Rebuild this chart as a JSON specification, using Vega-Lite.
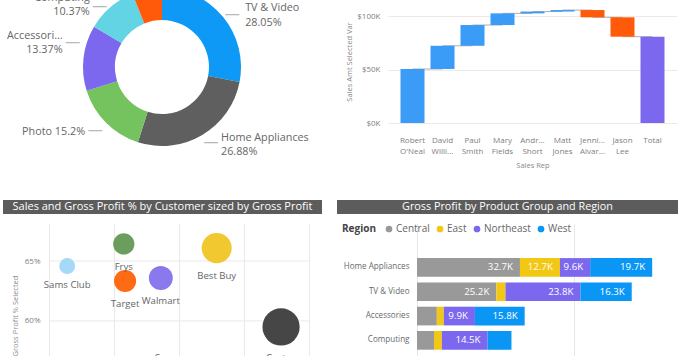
{
  "$schema": "https://vega.github.io/schema/vega-lite/v6.json",
  "padding": {"left": 3, "top": 0, "right": 0, "bottom": 0},
  "background": "white",
  "config": {
    "font": "Open Sans",
    "view": {"stroke": null},
    "axis": {"domain": false, "ticks": false, "labelFont": "Open Sans", "titleFont": "Open Sans", "titleFontWeight": "normal", "labelColor": "#808080", "titleColor": "#8a8a8a", "gridColor": "#eee8e6", "labelFontSize": 8, "titleFontSize": 7.5},
    "legend": {"labelFont": "Open Sans", "titleFont": "Open Sans"}
  },
  "datasets": {
    "donut": [
      {"cat": "TV & Video", "share": 28.05, "ord": 1, "lbl": "TV & Video|28.05%"},
      {"cat": "Home Appliances", "share": 26.88, "ord": 2, "lbl": "Home Appliances|26.88%"},
      {"cat": "Photo", "share": 15.2, "ord": 3, "lbl": "Photo 15.2%"},
      {"cat": "Accessories", "share": 13.37, "ord": 4, "lbl": "Accessori...|13.37%"},
      {"cat": "Computing", "share": 10.37, "ord": 5, "lbl": "Computing|10.37%"},
      {"cat": "Audio", "share": 6.13, "ord": 6, "lbl": "Audio|6.13%"}
    ],
    "waterfall": [
      {"rep": "Robert O'Neal", "start": 0, "end": 50.5, "kind": "Increase", "next": "David Willi..."},
      {"rep": "David Willi...", "start": 50.5, "end": 72.2, "kind": "Increase", "next": "Paul Smith"},
      {"rep": "Paul Smith", "start": 72.2, "end": 91.6, "kind": "Increase", "next": "Mary Fields"},
      {"rep": "Mary Fields", "start": 91.6, "end": 102.5, "kind": "Increase", "next": "Andr... Short"},
      {"rep": "Andr... Short", "start": 102.5, "end": 104.2, "kind": "Increase", "next": "Matt Jones"},
      {"rep": "Matt Jones", "start": 104.2, "end": 105.6, "kind": "Increase", "next": "Jenni... Alvar..."},
      {"rep": "Jenni... Alvar...", "start": 105.6, "end": 98.8, "kind": "Decrease", "next": "Jason Lee"},
      {"rep": "Jason Lee", "start": 98.8, "end": 80.7, "kind": "Decrease", "next": "Total"},
      {"rep": "Total", "start": 0, "end": 80.7, "kind": "Total", "next": null}
    ],
    "scatter": [
      {"cust": "Sams Club", "sales": 2.8, "pct": 0.6458, "gp": 8.1},
      {"cust": "Frys", "sales": 11.5, "pct": 0.6642, "gp": 14.4},
      {"cust": "Target", "sales": 11.7, "pct": 0.6333, "gp": 15.6},
      {"cust": "Walmart", "sales": 17.2, "pct": 0.6358, "gp": 18.2},
      {"cust": "Best Buy", "sales": 25.8, "pct": 0.6608, "gp": 28.9},
      {"cust": "Costco", "sales": 35.7, "pct": 0.595, "gp": 44.1},
      {"cust": "Sears", "sales": 18.2, "pct": 0.5791, "gp": 0}
    ],
    "scatterGrid": [{"v": 0.6}, {"v": 0.65}],
    "bars": [
      {"group": "Home Appliances", "region": "Central", "ri": 1, "gp": 32.7, "lbl": "32.7K"},
      {"group": "Home Appliances", "region": "East", "ri": 2, "gp": 12.7, "lbl": "12.7K"},
      {"group": "Home Appliances", "region": "Northeast", "ri": 3, "gp": 9.6, "lbl": "9.6K"},
      {"group": "Home Appliances", "region": "West", "ri": 4, "gp": 19.7, "lbl": "19.7K"},
      {"group": "TV & Video", "region": "Central", "ri": 1, "gp": 25.2, "lbl": "25.2K"},
      {"group": "TV & Video", "region": "East", "ri": 2, "gp": 2.9, "lbl": "2.9K"},
      {"group": "TV & Video", "region": "Northeast", "ri": 3, "gp": 23.8, "lbl": "23.8K"},
      {"group": "TV & Video", "region": "West", "ri": 4, "gp": 16.3, "lbl": "16.3K"},
      {"group": "Accessories", "region": "Central", "ri": 1, "gp": 6.3, "lbl": "6.3K"},
      {"group": "Accessories", "region": "East", "ri": 2, "gp": 2.2, "lbl": "2.2K"},
      {"group": "Accessories", "region": "Northeast", "ri": 3, "gp": 9.9, "lbl": "9.9K"},
      {"group": "Accessories", "region": "West", "ri": 4, "gp": 15.8, "lbl": "15.8K"},
      {"group": "Computing", "region": "Central", "ri": 1, "gp": 5.4, "lbl": "5.4K"},
      {"group": "Computing", "region": "East", "ri": 2, "gp": 2.5, "lbl": "2.5K"},
      {"group": "Computing", "region": "Northeast", "ri": 3, "gp": 14.5, "lbl": "14.5K"},
      {"group": "Computing", "region": "West", "ri": 4, "gp": 7.6, "lbl": "7.6K"}
    ]
  },
  "resolve": {"scale": {"color": "independent", "size": "independent", "theta": "independent"}, "legend": {"color": "independent", "size": "independent"}},
  "spacing": 10,
  "vconcat": [
    {
      "hconcat": [
        {
          "width": 318, "height": 190,
          "data": {"name": "donut"},
          "encoding": {
            "theta": {"field": "share", "type": "quantitative", "stack": true},
            "order": {"field": "ord", "type": "quantitative"},
            "detail": {"field": "cat", "type": "nominal"}
          },
          "layer": [
            {"mark": {"type": "arc", "innerRadius": 47, "outerRadius": 79, "yOffset": -28, "clip": true},
             "encoding": {"color": {"field": "cat", "type": "nominal", "legend": null,
               "scale": {"domain": ["TV & Video", "Home Appliances", "Photo", "Accessories", "Computing", "Audio"],
                         "range": ["#0d99f5", "#5f5f5f", "#74c35e", "#7b68ee", "#63d4e3", "#ff5a0a"]}}}},
            {"mark": {"type": "text", "radius": 100, "yOffset": -28, "dx": 6, "dy": 4.75, "align": "left", "baseline": "middle", "lineBreak": "|", "lineHeight": 14.5, "fontSize": 10.8, "color": "#666666", "clip": true},
             "encoding": {"text": {"condition": {"test": "datum.cat === 'TV & Video'", "field": "lbl"}, "value": ""}}},
            {"mark": {"type": "text", "radius": 100, "yOffset": -28, "dx": 8, "dy": -15.25, "align": "left", "baseline": "middle", "lineBreak": "|", "lineHeight": 14.5, "fontSize": 10.8, "color": "#666666", "clip": true},
             "encoding": {"text": {"condition": {"test": "datum.cat === 'Home Appliances'", "field": "lbl"}, "value": ""}}},
            {"mark": {"type": "text", "radius": 100, "yOffset": -28, "dx": -6, "dy": -5.5, "align": "right", "baseline": "middle", "lineBreak": "|", "lineHeight": 14.5, "fontSize": 10.8, "color": "#666666", "clip": true},
             "encoding": {"text": {"condition": {"test": "datum.cat === 'Photo'", "field": "lbl"}, "value": ""}}},
            {"mark": {"type": "text", "radius": 100, "yOffset": -28, "dx": 0, "dy": -19.75, "align": "right", "baseline": "middle", "lineBreak": "|", "lineHeight": 14.5, "fontSize": 10.8, "color": "#666666", "clip": true},
             "encoding": {"text": {"condition": {"test": "datum.cat === 'Accessories'", "field": "lbl"}, "value": ""}}},
            {"mark": {"type": "text", "radius": 100, "yOffset": -28, "dx": -7, "dy": 6.75, "align": "right", "baseline": "middle", "lineBreak": "|", "lineHeight": 14.5, "fontSize": 10.8, "color": "#666666", "clip": true},
             "encoding": {"text": {"condition": {"test": "datum.cat === 'Computing'", "field": "lbl"}, "value": ""}}},
            {"mark": {"type": "text", "radius": 100, "yOffset": -28, "dx": -7, "dy": 10.6, "align": "center", "baseline": "middle", "fontSize": 15, "color": "#b8b8b8", "clip": true},
             "encoding": {"text": {"condition": {"test": "datum.cat === 'TV & Video'", "value": "—"}, "value": ""}}},
            {"mark": {"type": "text", "radius": 100, "yOffset": -28, "dx": -2, "dy": -11, "align": "center", "baseline": "middle", "fontSize": 15, "color": "#b8b8b8", "clip": true},
             "encoding": {"text": {"condition": {"test": "datum.cat === 'Home Appliances'", "value": "—"}, "value": ""}}},
            {"mark": {"type": "text", "radius": 100, "yOffset": -28, "dx": 4, "dy": -7.5, "align": "center", "baseline": "middle", "fontSize": 15, "color": "#b8b8b8", "clip": true},
             "encoding": {"text": {"condition": {"test": "datum.cat === 'Photo'", "value": "—"}, "value": ""}}},
            {"mark": {"type": "text", "radius": 100, "yOffset": -28, "dx": 10, "dy": -13.5, "align": "center", "baseline": "middle", "fontSize": 15, "color": "#b8b8b8", "clip": true},
             "encoding": {"text": {"condition": {"test": "datum.cat === 'Accessories'", "value": "—"}, "value": ""}}},
            {"mark": {"type": "text", "radius": 100, "yOffset": -28, "dx": 3, "dy": 14.7, "align": "center", "baseline": "middle", "fontSize": 15, "color": "#b8b8b8", "clip": true},
             "encoding": {"text": {"condition": {"test": "datum.cat === 'Computing'", "value": "—"}, "value": ""}}}
          ]
        },
        {
          "width": 289, "height": 123,
          "data": {"name": "waterfall"},
          "encoding": {
            "x": {"field": "rep", "type": "nominal",
                  "scale": {"domain": ["Robert O'Neal", "David Willi...", "Paul Smith", "Mary Fields", "Andr... Short", "Matt Jones", "Jenni... Alvar...", "Jason Lee", "Total"], "paddingInner": 0.2, "paddingOuter": 0.417},
                  "axis": {"labelExpr": "split(datum.label, ' ')", "labelAngle": 0, "labelPadding": 13, "labelLineHeight": 11, "title": "Sales Rep", "titlePadding": 6}}
          },
          "layer": [
            {"transform": [{"filter": "isValid(datum.next)"}],
             "mark": {"type": "rule", "color": "#b0b0b0", "strokeWidth": 1},
             "encoding": {
               "x2": {"field": "next"},
               "y": {"field": "end", "type": "quantitative", "scale": {"domain": [0, 115], "nice": false},
                     "axis": {"values": [0, 50, 100], "labelExpr": "'$' + datum.value + 'K'", "grid": true, "labelPadding": 8, "title": "Sales Amt Selected Var", "titlePadding": 3}}
             }},
            {"mark": {"type": "bar"},
             "encoding": {
               "y": {"field": "start", "type": "quantitative", "scale": {"domain": [0, 115], "nice": false},
                     "axis": {"values": [0, 50, 100], "labelExpr": "'$' + datum.value + 'K'", "grid": true, "labelPadding": 8, "title": "Sales Amt Selected Var", "titlePadding": 3}},
               "y2": {"field": "end"},
               "color": {"field": "kind", "type": "nominal", "legend": null,
                         "scale": {"domain": ["Increase", "Decrease", "Total"], "range": ["#3a9cf6", "#ff5a0a", "#7b68ee"]}}
             }}
          ]
        }
      ],
      "spacing": 67,
      "bounds": "flush",
      "resolve": {"scale": {"color": "independent", "size": "independent", "theta": "independent"}, "legend": {"color": "independent"}}
    },
    {
      "vconcat": [
        {
          "hconcat": [
            {
              "width": 319, "height": 14,
              "view": {"fill": "#5c5c5c", "stroke": null},
              "data": {"values": [{"t": "Sales and Gross Profit % by Customer sized by Gross Profit"}]},
              "mark": {"type": "text", "color": "white", "fontSize": 11, "baseline": "middle", "align": "center"},
              "encoding": {"text": {"field": "t", "type": "nominal"}}
            },
            {
              "width": 341, "height": 14,
              "view": {"fill": "#5c5c5c", "stroke": null},
              "data": {"values": [{"t": "Gross Profit by Product Group and Region"}]},
              "mark": {"type": "text", "color": "white", "fontSize": 10.8, "baseline": "middle", "align": "center"},
              "encoding": {"text": {"field": "t", "type": "nominal"}}
            }
          ],
          "spacing": 15,
          "bounds": "flush"
        },
        {
          "hconcat": [
            {
              "width": 306, "height": 133,
              "layer": [
                {"data": {"name": "scatterGrid"},
                 "mark": {"type": "rule", "color": "#e9e9e9"},
                 "encoding": {
                   "x": {"datum": 0, "type": "quantitative"},
                   "x2": {"datum": 40},
                   "y": {"field": "v", "type": "quantitative"}
                 }},
                {"data": {"name": "scatter"},
                 "mark": {"type": "circle", "opacity": 1, "clip": true},
                 "encoding": {
                   "x": {"field": "sales", "type": "quantitative", "scale": {"domain": [-7.08, 40], "nice": false, "zero": false},
                         "axis": {"values": [0, 10, 20, 30, 40], "grid": true, "gridColor": "#e9e9e9", "labels": false, "title": null}},
                   "y": {"field": "pct", "type": "quantitative", "scale": {"domain": [0.5708, 0.6817], "nice": false, "zero": false},
                         "axis": {"values": [0.6, 0.65], "format": ".0%", "grid": false, "offset": -46, "labelPadding": 9, "title": "Gross Profit % Selected", "titleAnchor": "start", "titlePadding": 5}},
                   "size": {"field": "gp", "type": "quantitative", "legend": null, "scale": {"domain": [0, 44.1], "range": [0, 1385]}},
                   "color": {"field": "cust", "type": "nominal", "legend": null,
                             "scale": {"domain": ["Sams Club", "Frys", "Target", "Walmart", "Best Buy", "Costco", "Sears"],
                                       "range": ["#a6d8f8", "#6b9e5c", "#ff6a14", "#8a78ee", "#f2c830", "#464646", "#bbbbbb"]}}
                 }},
                {"data": {"name": "scatter"}, "transform": [{"filter": "datum.gp < 5"}],
                 "mark": {"type": "text", "dy": 12, "baseline": "middle", "fontSize": 9.6, "color": "#666666", "clip": true},
                 "encoding": {"x": {"field": "sales", "type": "quantitative"}, "y": {"field": "pct", "type": "quantitative"}, "text": {"field": "cust", "type": "nominal"}}},
                {"data": {"name": "scatter"}, "transform": [{"filter": "datum.gp >= 5 && datum.gp < 10"}],
                 "mark": {"type": "text", "dy": 19, "baseline": "middle", "fontSize": 9.6, "color": "#666666", "clip": true},
                 "encoding": {"x": {"field": "sales", "type": "quantitative"}, "y": {"field": "pct", "type": "quantitative"}, "text": {"field": "cust", "type": "nominal"}}},
                {"data": {"name": "scatter"}, "transform": [{"filter": "datum.gp >= 10 && datum.gp < 20"}],
                 "mark": {"type": "text", "dy": 23, "baseline": "middle", "fontSize": 9.6, "color": "#666666", "clip": true},
                 "encoding": {"x": {"field": "sales", "type": "quantitative"}, "y": {"field": "pct", "type": "quantitative"}, "text": {"field": "cust", "type": "nominal"}}},
                {"data": {"name": "scatter"}, "transform": [{"filter": "datum.gp >= 20 && datum.gp < 35"}],
                 "mark": {"type": "text", "dy": 27.5, "baseline": "middle", "fontSize": 9.6, "color": "#666666", "clip": true},
                 "encoding": {"x": {"field": "sales", "type": "quantitative"}, "y": {"field": "pct", "type": "quantitative"}, "text": {"field": "cust", "type": "nominal"}}},
                {"data": {"name": "scatter"}, "transform": [{"filter": "datum.gp >= 35"}],
                 "mark": {"type": "text", "dy": 31, "baseline": "middle", "fontSize": 9.6, "color": "#666666", "clip": true},
                 "encoding": {"x": {"field": "sales", "type": "quantitative"}, "y": {"field": "pct", "type": "quantitative"}, "text": {"field": "cust", "type": "nominal"}}}
              ]
            },
            {
              "width": 261, "height": 133,
              "data": {"name": "bars"},
              "encoding": {
                "y": {"field": "group", "type": "nominal",
                      "scale": {"domain": ["Home Appliances", "TV & Video", "Accessories", "Computing"], "paddingInner": 0.23, "paddingOuter": 0.852, "align": 0.848},
                      "axis": {"title": null, "labelPadding": 8, "labelFontSize": 8.1, "labelColor": "#6a6a6a"}},
                "x": {"field": "gp", "type": "quantitative", "stack": "zero",
                      "scale": {"domain": [0, 82.9], "nice": false},
                      "axis": {"values": [0, 50], "grid": true, "gridColor": "#e6e6e6", "labels": false, "title": null}},
                "order": {"field": "ri", "type": "quantitative"}
              },
              "layer": [
                {"mark": {"type": "bar"},
                 "encoding": {
                   "color": {"field": "region", "type": "nominal",
                             "scale": {"domain": ["Central", "East", "Northeast", "West"], "range": ["#999999", "#f2c814", "#7b68ee", "#0a96f5"]},
                             "legend": {"orient": "none", "legendX": -75, "legendY": 1, "direction": "horizontal", "title": "Region", "titleOrient": "left",
                                        "titleFontWeight": "bold", "titleColor": "#444444", "titleFontSize": 10, "titlePadding": 8,
                                        "labelColor": "#666666", "labelFontSize": 10, "labelOffset": 2, "columnPadding": 5,
                                        "symbolType": "circle", "symbolSize": 45, "symbolStrokeWidth": 0}}
                 }},
                {"mark": {"type": "text", "align": "right", "baseline": "middle", "dx": -7, "color": "white", "fontSize": 9.7},
                 "encoding": {
                   "detail": {"field": "region", "type": "nominal"},
                   "text": {"condition": {"test": "datum.gp >= 9", "field": "lbl"}, "value": ""}
                 }}
              ]
            }
          ],
          "spacing": 108,
          "bounds": "flush",
          "resolve": {"scale": {"color": "independent", "size": "independent"}, "legend": {"color": "independent", "size": "independent"}}
        }
      ],
      "spacing": 9,
      "resolve": {"scale": {"color": "independent", "size": "independent"}, "legend": {"color": "independent", "size": "independent"}}
    }
  ]
}
